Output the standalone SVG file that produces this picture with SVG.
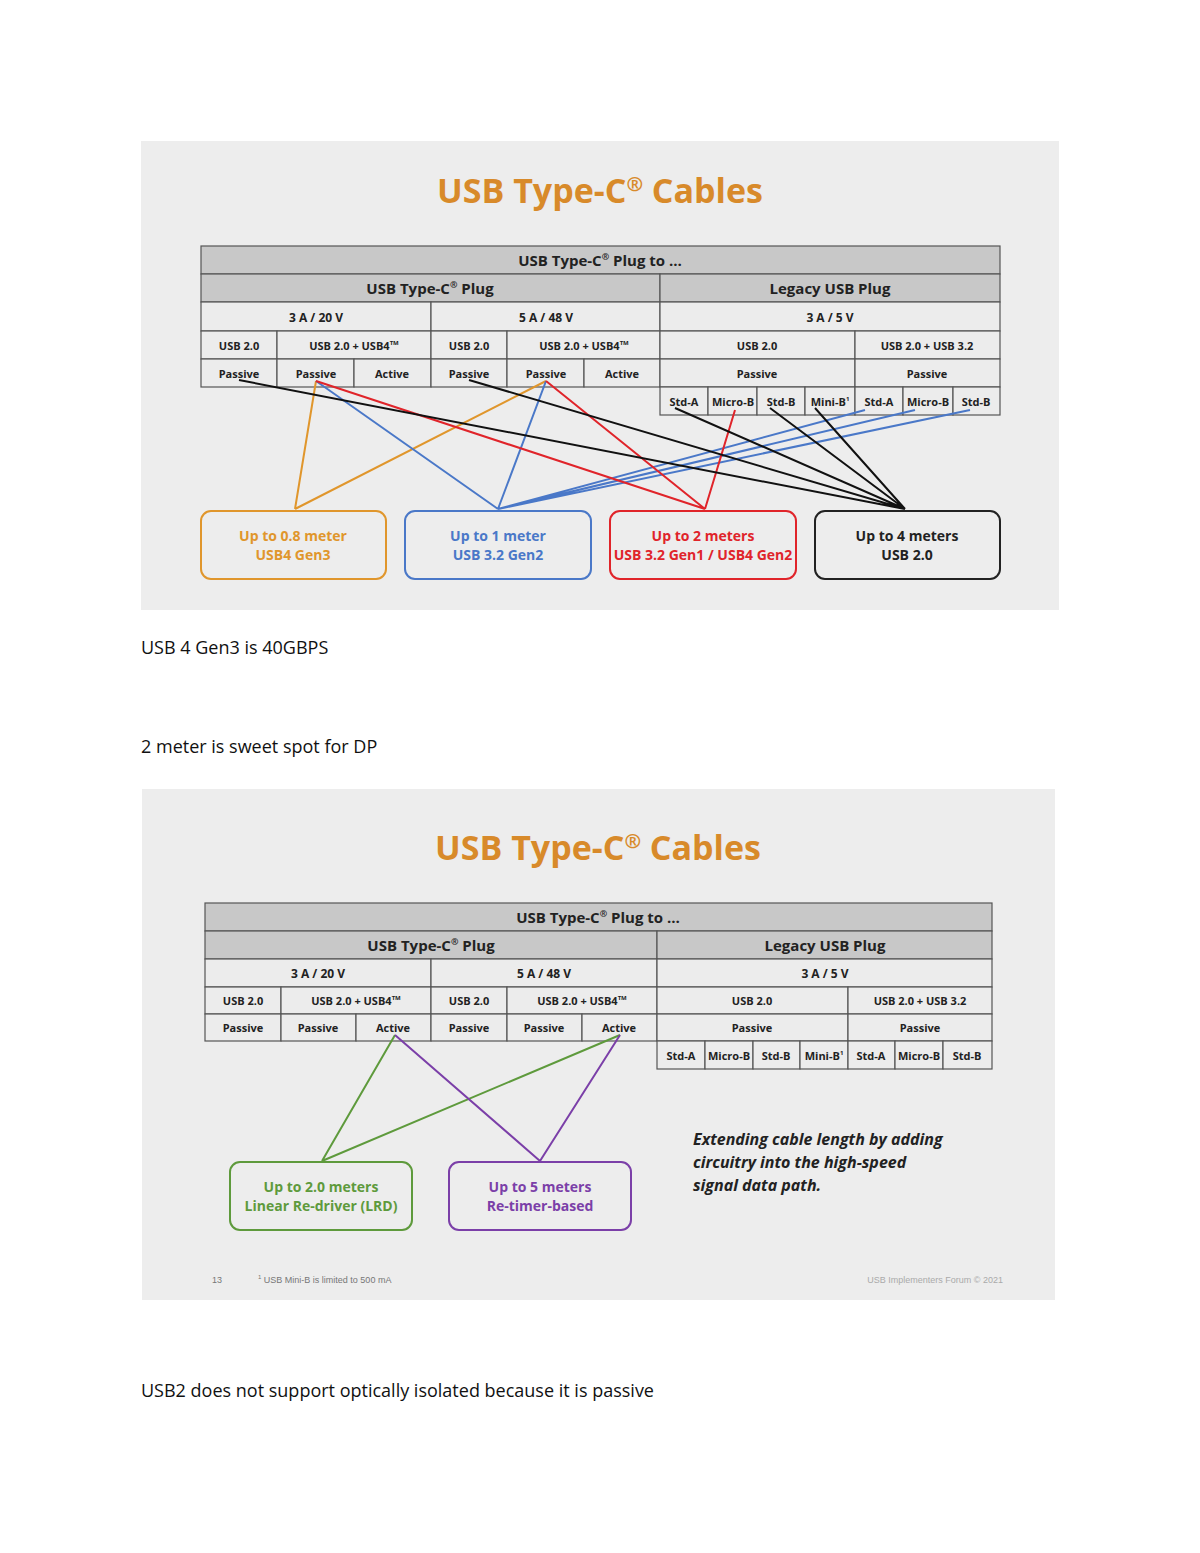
<svg xmlns="http://www.w3.org/2000/svg" width="1200" height="1553" viewBox="0 0 1200 1553">
<style>
.bg{fill:#ededed}
.g{fill:#c8c8c8;stroke:#555;stroke-width:1.2}
.c{fill:#ececec;stroke:#555;stroke-width:1.2}
.t{font-family:"Open Sans","Liberation Sans",sans-serif;font-weight:bold;fill:#222;text-anchor:middle}
.h{font-size:15px}.s{font-size:12px}.x{font-size:11px}
.title{font-family:"Open Sans","Liberation Sans",sans-serif;font-weight:bold;font-size:34px;fill:#d88a2a;text-anchor:middle}
.note{font-family:"Open Sans","Liberation Sans",sans-serif;font-size:18px;fill:#111}
.bt{font-family:"Open Sans","Liberation Sans",sans-serif;font-weight:bold;font-size:14px;text-anchor:middle}
.ln{stroke-width:2;fill:none}
</style>
<rect width="1200" height="1553" fill="#fff"/>
<g id="slide1">
<rect class="bg" x="141" y="141" width="918" height="469"/>
<text class="title" x="600" y="203">USB Type-C<tspan font-size="20" dy="-12">®</tspan><tspan dy="12"> Cables</tspan></text>
<g id="table1">
<rect class="g" x="201" y="246" width="799" height="28"/>
<rect class="g" x="201" y="274" width="459" height="28"/><rect class="g" x="660" y="274" width="340" height="28"/>
<rect class="c" x="201" y="302" width="230" height="29"/><rect class="c" x="431" y="302" width="229" height="29"/><rect class="c" x="660" y="302" width="340" height="29"/>
<rect class="c" x="201" y="331" width="76" height="28"/><rect class="c" x="277" y="331" width="154" height="28"/><rect class="c" x="431" y="331" width="76" height="28"/><rect class="c" x="507" y="331" width="153" height="28"/><rect class="c" x="660" y="331" width="195" height="28"/><rect class="c" x="855" y="331" width="145" height="28"/>
<rect class="c" x="201" y="359" width="76" height="28"/><rect class="c" x="277" y="359" width="77" height="28"/><rect class="c" x="354" y="359" width="77" height="28"/><rect class="c" x="431" y="359" width="76" height="28"/><rect class="c" x="507" y="359" width="77" height="28"/><rect class="c" x="584" y="359" width="76" height="28"/><rect class="c" x="660" y="359" width="195" height="28"/><rect class="c" x="855" y="359" width="145" height="28"/>
<rect class="c" x="660" y="387" width="48" height="28"/><rect class="c" x="708" y="387" width="49" height="28"/><rect class="c" x="757" y="387" width="48" height="28"/><rect class="c" x="805" y="387" width="50" height="28"/><rect class="c" x="855" y="387" width="48" height="28"/><rect class="c" x="903" y="387" width="50" height="28"/><rect class="c" x="953" y="387" width="47" height="28"/>
<text class="t h" x="600" y="266">USB Type-C<tspan font-size="9" dy="-6">®</tspan><tspan dy="6"> Plug to …</tspan></text>
<text class="t h" x="430" y="294">USB Type-C<tspan font-size="9" dy="-6">®</tspan><tspan dy="6"> Plug</tspan></text>
<text class="t h" x="830" y="294">Legacy USB Plug</text>
<text class="t s" x="316" y="322">3 A / 20 V</text><text class="t s" x="546" y="322">5 A / 48 V</text><text class="t s" x="830" y="322">3 A / 5 V</text>
<text class="t x" x="239" y="350">USB 2.0</text><text class="t x" x="354" y="350">USB 2.0 + USB4<tspan font-size="6" dy="-5">TM</tspan></text><text class="t x" x="469" y="350">USB 2.0</text><text class="t x" x="584" y="350">USB 2.0 + USB4<tspan font-size="6" dy="-5">TM</tspan></text><text class="t x" x="757" y="350">USB 2.0</text><text class="t x" x="927" y="350">USB 2.0 + USB 3.2</text>
<text class="t x" x="239" y="378">Passive</text><text class="t x" x="316" y="378">Passive</text><text class="t x" x="392" y="378">Active</text><text class="t x" x="469" y="378">Passive</text><text class="t x" x="546" y="378">Passive</text><text class="t x" x="622" y="378">Active</text><text class="t x" x="757" y="378">Passive</text><text class="t x" x="927" y="378">Passive</text>
<text class="t x" x="684" y="406">Std-A</text><text class="t x" x="733" y="406">Micro-B</text><text class="t x" x="781" y="406">Std-B</text><text class="t x" x="830" y="406">Mini-B<tspan font-size="6" dy="-5">1</tspan></text><text class="t x" x="879" y="406">Std-A</text><text class="t x" x="928" y="406">Micro-B</text><text class="t x" x="976" y="406">Std-B</text>
</g>
<g id="connectors1">
<path class="ln" stroke="#e0962c" d="M316 381L295 509M546 381L295 509"/>
<path class="ln" stroke="#4a78c8" d="M316 381L498 509M546 381L498 509M865 410L498 509M915 410L498 509M970 410L498 509"/>
<path class="ln" stroke="#e0242a" d="M316 381L705 509M546 381L705 509M735 410L705 509"/>
<path class="ln" stroke="#111" d="M239 380L905 509M469 380L905 509M675 408L905 509M770 408L905 509M815 408L905 509"/>
</g>
<g id="box-orange"><rect x="201" y="511" width="185" height="68" rx="10" fill="none" stroke="#e0962c" stroke-width="2"/><text class="bt" x="293" y="541" fill="#e0962c" font-size="15">Up to 0.8 meter</text><text class="bt" x="293" y="560" fill="#e0962c" font-size="13">USB4 Gen3</text></g>
<g id="box-blue"><rect x="405" y="511" width="186" height="68" rx="10" fill="none" stroke="#4a78c8" stroke-width="2"/><text class="bt" x="498" y="541" fill="#4a78c8" font-size="15">Up to 1 meter</text><text class="bt" x="498" y="560" fill="#4a78c8" font-size="13">USB 3.2 Gen2</text></g>
<g id="box-red"><rect x="610" y="511" width="186" height="68" rx="10" fill="none" stroke="#e0242a" stroke-width="2"/><text class="bt" x="703" y="541" fill="#e0242a" font-size="15">Up to 2 meters</text><text class="bt" x="703" y="560" fill="#e0242a" font-size="13">USB 3.2 Gen1 / USB4 Gen2</text></g>
<g id="box-black"><rect x="815" y="511" width="185" height="68" rx="10" fill="none" stroke="#222" stroke-width="2"/><text class="bt" x="907" y="541" fill="#222" font-size="15">Up to 4 meters</text><text class="bt" x="907" y="560" fill="#222" font-size="13">USB 2.0</text></g>
</g>
<text class="note" x="141" y="654">USB 4 Gen3 is 40GBPS</text>
<text class="note" x="141" y="753">2 meter is sweet spot for DP</text>
<g id="slide2">
<rect class="bg" x="142" y="789" width="913" height="511"/>
<text class="title" x="598" y="860">USB Type-C<tspan font-size="20" dy="-12">®</tspan><tspan dy="12"> Cables</tspan></text>
<g id="table2">
<rect class="g" x="205" y="903" width="787" height="28"/>
<rect class="g" x="205" y="931" width="452" height="28"/><rect class="g" x="657" y="931" width="335" height="28"/>
<rect class="c" x="205" y="959" width="226" height="28"/><rect class="c" x="431" y="959" width="226" height="28"/><rect class="c" x="657" y="959" width="335" height="28"/>
<rect class="c" x="205" y="987" width="76" height="27"/><rect class="c" x="281" y="987" width="150" height="27"/><rect class="c" x="431" y="987" width="76" height="27"/><rect class="c" x="507" y="987" width="150" height="27"/><rect class="c" x="657" y="987" width="191" height="27"/><rect class="c" x="848" y="987" width="144" height="27"/>
<rect class="c" x="205" y="1014" width="76" height="27"/><rect class="c" x="281" y="1014" width="75" height="27"/><rect class="c" x="356" y="1014" width="75" height="27"/><rect class="c" x="431" y="1014" width="76" height="27"/><rect class="c" x="507" y="1014" width="75" height="27"/><rect class="c" x="582" y="1014" width="75" height="27"/><rect class="c" x="657" y="1014" width="191" height="27"/><rect class="c" x="848" y="1014" width="144" height="27"/>
<rect class="c" x="657" y="1041" width="48" height="28"/><rect class="c" x="705" y="1041" width="48" height="28"/><rect class="c" x="753" y="1041" width="47" height="28"/><rect class="c" x="800" y="1041" width="48" height="28"/><rect class="c" x="848" y="1041" width="47" height="28"/><rect class="c" x="895" y="1041" width="48" height="28"/><rect class="c" x="943" y="1041" width="49" height="28"/>
<text class="t h" x="598" y="923">USB Type-C<tspan font-size="9" dy="-6">®</tspan><tspan dy="6"> Plug to …</tspan></text>
<text class="t h" x="431" y="951">USB Type-C<tspan font-size="9" dy="-6">®</tspan><tspan dy="6"> Plug</tspan></text>
<text class="t h" x="825" y="951">Legacy USB Plug</text>
<text class="t s" x="318" y="978">3 A / 20 V</text><text class="t s" x="544" y="978">5 A / 48 V</text><text class="t s" x="825" y="978">3 A / 5 V</text>
<text class="t x" x="243" y="1005">USB 2.0</text><text class="t x" x="356" y="1005">USB 2.0 + USB4<tspan font-size="6" dy="-5">TM</tspan></text><text class="t x" x="469" y="1005">USB 2.0</text><text class="t x" x="582" y="1005">USB 2.0 + USB4<tspan font-size="6" dy="-5">TM</tspan></text><text class="t x" x="752" y="1005">USB 2.0</text><text class="t x" x="920" y="1005">USB 2.0 + USB 3.2</text>
<text class="t x" x="243" y="1032">Passive</text><text class="t x" x="318" y="1032">Passive</text><text class="t x" x="393" y="1032">Active</text><text class="t x" x="469" y="1032">Passive</text><text class="t x" x="544" y="1032">Passive</text><text class="t x" x="619" y="1032">Active</text><text class="t x" x="752" y="1032">Passive</text><text class="t x" x="920" y="1032">Passive</text>
<text class="t x" x="681" y="1060">Std-A</text><text class="t x" x="729" y="1060">Micro-B</text><text class="t x" x="776" y="1060">Std-B</text><text class="t x" x="824" y="1060">Mini-B<tspan font-size="6" dy="-5">1</tspan></text><text class="t x" x="871" y="1060">Std-A</text><text class="t x" x="919" y="1060">Micro-B</text><text class="t x" x="967" y="1060">Std-B</text>
</g>
<g id="connectors2">
<path class="ln" stroke="#5e9a3c" d="M395 1035L322 1161M620 1035L322 1161"/>
<path class="ln" stroke="#7b3fa8" d="M395 1035L540 1161M620 1035L540 1161"/>
</g>
<g id="box-green"><rect x="230" y="1162" width="182" height="68" rx="10" fill="none" stroke="#5e9a3c" stroke-width="2"/><text class="bt" x="321" y="1192" fill="#5e9a3c" font-size="15">Up to 2.0 meters</text><text class="bt" x="321" y="1211" fill="#5e9a3c" font-size="13">Linear Re-driver (LRD)</text></g>
<g id="box-purple"><rect x="449" y="1162" width="182" height="68" rx="10" fill="none" stroke="#7b3fa8" stroke-width="2"/><text class="bt" x="540" y="1192" fill="#7b3fa8" font-size="15">Up to 5 meters</text><text class="bt" x="540" y="1211" fill="#7b3fa8" font-size="13">Re-timer-based</text></g>
<g font-family="'Open Sans','Liberation Sans',sans-serif" font-weight="bold" font-style="italic" font-size="16" fill="#222">
<text x="693" y="1145">Extending cable length by adding</text>
<text x="693" y="1168">circuitry into the high-speed</text>
<text x="693" y="1191">signal data path.</text>
</g>
<g font-family="'Liberation Sans',sans-serif" font-size="9" fill="#777">
<text x="212" y="1283">13</text>
<text x="258" y="1283"><tspan font-size="6" dy="-4">1</tspan><tspan dy="4"> USB Mini-B is limited to 500 mA</tspan></text>
<text x="1003" y="1283" text-anchor="end" fill="#aaa">USB Implementers Forum © 2021</text>
</g>
</g>
<text class="note" x="141" y="1397">USB2 does not support optically isolated because it is passive</text>
</svg>
